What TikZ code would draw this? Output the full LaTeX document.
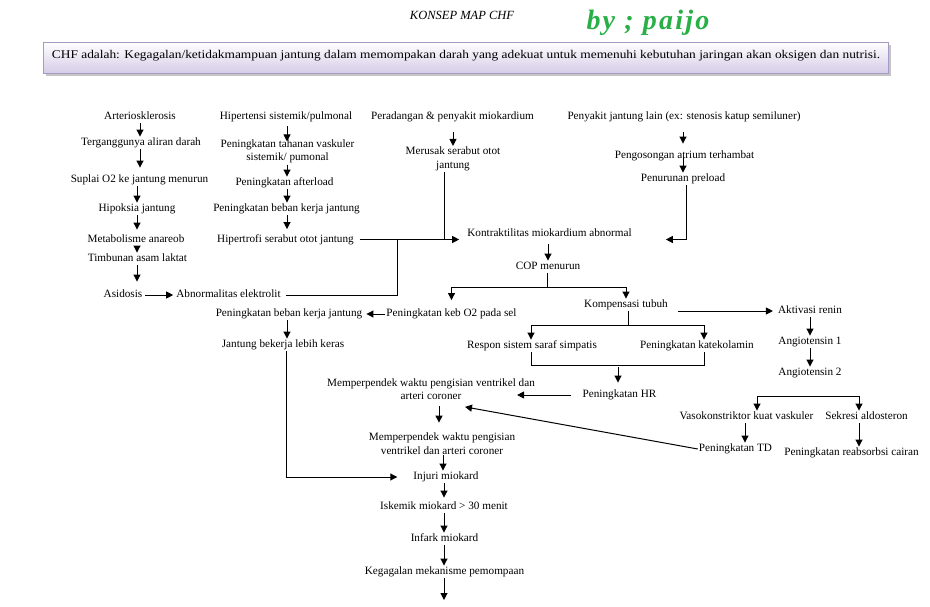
\documentclass[tikz,border=0pt]{standalone}
\usepackage{fontspec}
\setmainfont{Liberation Serif}
\usetikzlibrary{arrows.meta,shadows,calc}
\definecolor{grn}{RGB}{40,175,70}
\definecolor{lav}{RGB}{214,204,232}
\definecolor{lavline}{RGB}{165,155,195}
\tikzset{
  txt/.style={inner sep=1pt, align=center, text height=8pt, text depth=2.5pt, font=\fontsize{11.2}{13.5}\selectfont},
  txtb/.style={inner sep=1pt, align=center, font=\fontsize{11.2}{13.5}\selectfont},
  arr/.style={line width=1pt, -{Triangle[length=7pt,width=7pt]}},
  ln/.style={line width=1pt},
}
\begin{document}
\begin{tikzpicture}[x=1pt,y=-1pt]
\useasboundingbox (0,0) rectangle (930,606);

% header
\node[inner sep=0pt, font=\fontsize{12.5}{15}\selectfont\itshape] (title) at (462,15) {KONSEP MAP CHF};
\node[inner sep=0pt, text=grn, font=\fontsize{28}{32}\selectfont\bfseries\itshape\addfontfeature{LetterSpace=8}] (by) at (648,23) {by ; paijo};
\node[draw=lavline, line width=0.8pt, top color=white, bottom color=lav, minimum width=845pt, minimum height=31pt, inner sep=0pt,
      drop shadow={shadow xshift=2.5pt, shadow yshift=-3pt, fill=black!45}] (def) at (465.5,57.5) {};
\node[inner sep=0pt, font=\fontsize{11.8}{13}\selectfont] (deftxt) at (466,56) {\resizebox{828pt}{\height}{CHF adalah: Kegagalan/ketidakmampuan jantung dalam memompakan darah yang adekuat untuk memenuhi kebutuhan jaringan akan oksigen dan nutrisi.}};

% column 1
\node[txt] (arterio) at (140,117) {Arteriosklerosis};
\node[txt] (terg) at (141,143) {Terganggunya aliran darah};
\node[txt] (suplai) at (139.5,180) {Suplai O2 ke jantung menurun};
\node[txt] (hipoksia) at (137,209) {Hipoksia jantung};
\node[txt] (metab) at (136,240) {Metabolisme anareob};
\node[txt] (timbun) at (137.5,259) {Timbunan asam laktat};
\node[txt] (asidosis) at (123,295) {Asidosis};
\node[txt] (abnorm) at (228.5,295) {Abnormalitas elektrolit};

% column 2
\node[txt] (hipertensi) at (286,117) {Hipertensi sistemik/pulmonal};
\node[txtb] (tahanan) at (287.5,151.5) {Peningkatan tahanan vaskuler\\sistemik/ pumonal};
\node[txt] (afterload) at (284.5,183) {Peningkatan afterload};
\node[txt] (beban1) at (286.5,209) {Peningkatan beban kerja jantung};
\node[txt] (hipertrofi) at (285.5,239.5) {Hipertrofi serabut otot jantung};
\node[txt] (beban2) at (289,314) {Peningkatan beban kerja jantung};
\node[txt] (jantung) at (283,345) {Jantung bekerja lebih keras};

% column 3
\node[txt] (peradangan) at (452.5,117) {Peradangan \& penyakit miokardium};
\node[txtb] (merusak) at (453,159) {Merusak serabut otot\\jantung};
\node[txt] (kontrak) at (549.5,234) {Kontraktilitas miokardium abnormal};
\node[txt] (cop) at (548,267) {COP menurun};
\node[txt] (kebo2) at (451.5,314) {Peningkatan keb O2 pada sel};
\node[txt] (kompen) at (626,305) {Kompensasi tubuh};
\node[txt] (respon) at (532,346) {Respon sistem saraf simpatis};
\node[txt] (katek) at (697,346) {Peningkatan katekolamin};
\node[txt] (hr) at (619.5,395) {Peningkatan HR};
\node[txtb] (mp1) at (431,389) {Memperpendek waktu pengisian ventrikel dan\\arteri coroner};
\node[txtb] (mp2) at (442,443.5) {Memperpendek waktu pengisian\\ventrikel dan arteri coroner};
\node[txt] (injuri) at (446,477) {Injuri miokard};
\node[txt] (iskemik) at (444,507) {Iskemik miokard > 30 menit};
\node[txt] (infark) at (444.5,539) {Infark miokard};
\node[txt] (gagal) at (444.5,572) {Kegagalan mekanisme pemompaan};

% column 4
\node[txt] (penyakit) at (684,117) {Penyakit jantung lain (ex: stenosis katup semiluner)};
\node[txt] (pengosongan) at (684.5,156) {Pengosongan atrium terhambat};
\node[txt] (penurunan) at (683,179) {Penurunan preload};

% right side
\node[txt] (renin) at (810,311) {Aktivasi renin};
\node[txt] (ang1) at (810,342) {Angiotensin 1};
\node[txt] (ang2) at (810,373) {Angiotensin 2};
\node[txt] (vaso) at (746.5,417) {Vasokonstriktor kuat vaskuler};
\node[txt] (sekresi) at (866.5,417) {Sekresi aldosteron};
\node[txt] (td) at (735.5,449) {Peningkatan TD};
\node[txt] (reabs) at (851.5,453) {Peningkatan reabsorbsi cairan};

% junction coordinates
\coordinate (j1) at (444,239.5);
\coordinate (j2) at (397,239.5);
\coordinate (pr) at (686,239.5);
\coordinate (cj) at (547,287);
\coordinate (kj) at (628,325);
\coordinate (bl) at (531,365);
\coordinate (br) at (704,365);
\coordinate (bm) at (618,365);
\coordinate (jl) at (286,477);
\coordinate (rl) at (757,396);
\coordinate (rr) at (859,396);
\coordinate (fin) at (444,600);
\coordinate (ct) at ([xshift=34pt,yshift=-6pt]mp1.south);

% column 1 arrows
\draw[arr] (arterio.south -| 140,0) -- (terg.north -| 140,0);
\draw[arr, shorten >=6pt] (terg.south -| 140,0) -- (suplai.north -| 140,0);
\draw[arr] (suplai.south -| 137,0) -- (hipoksia.north -| 137,0);
\draw[arr, shorten >=4pt] (hipoksia.south -| 137,0) -- (metab.north -| 137,0);
\draw[arr, shorten <=-4pt] (metab.south -| 137,0) -- (timbun.north -| 137,0);
\draw[arr, shorten >=7pt] (timbun.south -| 137,0) -- (asidosis.north -| 137,0);
\draw[arr, shorten <=2pt, shorten >=2pt] (asidosis.east) -- (abnorm.west);

% column 2 arrows
\draw[arr, shorten <=3pt, shorten >=-3pt] (hipertensi.south -| 287,0) -- (tahanan.north -| 287,0);
\draw[arr] (tahanan.south -| 287,0) -- (afterload.north -| 287,0);
\draw[arr] (afterload.south -| 287,0) -- (beban1.north -| 287,0);
\draw[arr, shorten >=4pt] (beban1.south -| 287,0) -- (hipertrofi.north -| 287,0);
\draw[arr, shorten <=5pt, shorten >=7pt] (hipertrofi.east) -- (hipertrofi.east -| kontrak.west);
\draw[ln, shorten <=4pt] (abnorm.east) -| (j2);
\draw[ln] (merusak.south -| j1) -- (j1);
\draw[arr, shorten <=9pt] (peradangan.south -| 453,0) -- (merusak.north -| 453,0);

% column 4 arrows
\draw[arr, shorten <=9pt, shorten >=6pt] (penyakit.south -| 683,0) -- (pengosongan.north -| 683,0);
\draw[arr, shorten <=-5pt] (pengosongan.south -| 683,0) -- (penurunan.north -| 683,0);
\draw[arr, shorten >=33pt] (penurunan.south -| pr) -- (pr) -- (pr -| kontrak.east);

% centre
\draw[arr, shorten <=4pt] (kontrak.south -| 548,0) -- (cop.north -| 548,0);
\draw[ln] (cop.south -| cj) -- (cj);
\draw[arr, shorten >=7.5pt] (cj) -| (kebo2);
\draw[arr] (cj) -| (kompen);
\draw[arr, shorten >=3pt] (kebo2.west) -- (beban2.east);
\draw[arr] (beban2.south -| 287,0) -- (jantung.north -| 287,0);
\draw[arr, shorten >=15pt] (jantung.south -| jl) -- (jl) -- (injuri.west);
\draw[arr, shorten <=9pt, shorten >=4pt] (kompen.east |- renin) -- (renin.west);
\draw[ln] (kompen.south -| kj) -- (kj);
\draw[arr] (kj) -| (respon.north -| bl);
\draw[arr] (kj) -| (katek.north -| br);
\draw[ln] (respon.south -| bl) -- (bl) -- (br) -- (katek.south -| br);
\draw[arr, shorten <=2pt, shorten >=6pt] (bm) -- (hr.north -| bm);
\draw[arr, shorten <=10pt, shorten >=-19pt] (hr.west) -- (hr.west -| mp1.east);
\draw[arr, shorten <=5pt, shorten >=9pt] (mp1.south -| 439,0) -- (mp2.north -| 439,0);
\draw[arr] (mp2.south -| 443,0) -- (injuri.north -| 443,0);
\draw[arr, shorten >=3pt] (injuri.south -| 444,0) -- (iskemik.north -| 444,0);
\draw[arr] (iskemik.south -| 444,0) -- (infark.north -| 444,0);
\draw[arr] (infark.south -| 444,0) -- (gagal.north -| 444,0);
\draw[arr] (gagal.south -| fin) -- (fin);

% right side arrows
\draw[arr] (renin) -- (ang1);
\draw[arr] (ang1) -- (ang2);
\draw[ln] (rl) -- (rr);
\draw[arr] (rl) -- (vaso.north -| rl);
\draw[arr] (rr) -- (sekresi.north -| rr);
\draw[arr] (vaso.south -| 745,0) -- (td.north -| 745,0);
\draw[arr] (sekresi.south -| rr) -- (reabs.north -| rr);
\draw[arr] (td.west) -- (ct);
\end{tikzpicture}
\end{document}
